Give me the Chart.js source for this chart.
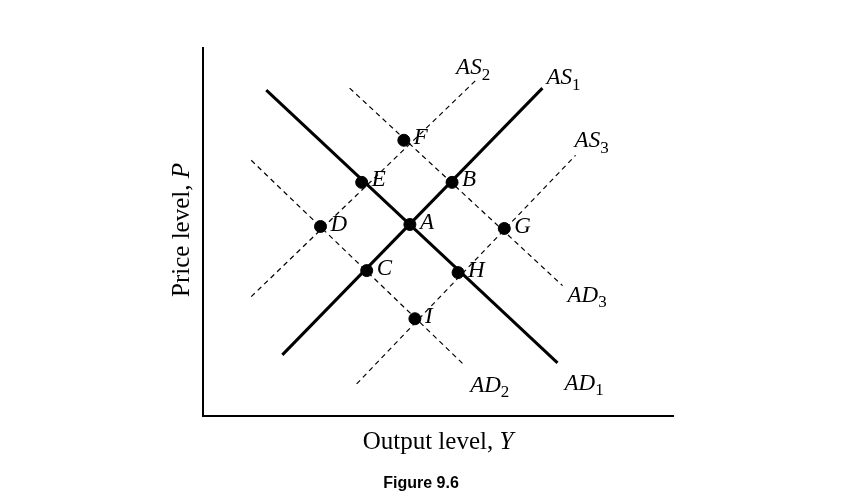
<!DOCTYPE html>
<html>
<head>
<meta charset="utf-8">
<script src="https://cdn.jsdelivr.net/npm/chart.js@4"></script>
<style>body{margin:0;background:#fff}</style>
</head>
<body>
<canvas id="c" width="841" height="502"></canvas>
<script>
// curve end points [x1, y1, x2, y2] in axis units (y measured up from the output axis)
const ad1 = [267, 325, 557, 53];
const as1 = [283, 61, 542, 327];
const as2 = [252, 119, 478, 337];
const as3 = [357, 32, 575, 260];
const ad2 = [252, 255, 465, 50];
const ad3 = [350, 327, 562, 130];

const pointNames = ["A", "B", "C", "D", "E", "F", "G", "H", "I"];
const pointX = [410, 452, 367, 321, 362, 404, 504, 458, 415];
const pointY = [191, 233, 145, 189, 233, 275, 187, 143, 97];

const curveNames = [["AS", "2"], ["AS", "1"], ["AS", "3"], ["AD", "3"], ["AD", "2"], ["AD", "1"]];
const curveLabelX = [456, 546, 574, 567, 470, 564];
const curveLabelY = [347, 337, 274, 120, 30, 32];

function seg(a, dashed) {
  return {
    type: "line",
    data: [{x: a[0], y: a[1]}, {x: a[2], y: a[3]}],
    borderColor: "#000",
    borderWidth: dashed ? 1.2 : 3,
    borderDash: dashed ? [5, 4] : [],
    pointRadius: 0,
    showLine: true
  };
}

const textPlugin = {
  id: "texts",
  afterDraw(chart) {
    const ctx = chart.ctx, xs = chart.scales.x, ys = chart.scales.y;
    ctx.save();
    ctx.fillStyle = "#000";
    ctx.textBaseline = "middle";
    ctx.textAlign = "left";
    ctx.font = "italic 23px 'Liberation Serif'";
    pointNames.forEach((n, i) => {
      ctx.fillText(n, xs.getPixelForValue(pointX[i]) + 10, ys.getPixelForValue(pointY[i]) - 2);
    });
    curveNames.forEach((n, i) => {
      const px = xs.getPixelForValue(curveLabelX[i]), py = ys.getPixelForValue(curveLabelY[i]);
      ctx.font = "italic 23px 'Liberation Serif'";
      ctx.fillText(n[0], px, py);
      const w = ctx.measureText(n[0]).width;
      ctx.font = "17px 'Liberation Serif'";
      ctx.fillText(n[1], px + w, py + 7);
    });
    const t = "Output level, ";
    ctx.font = "25px 'Liberation Serif'";
    const w1 = ctx.measureText(t).width;
    ctx.font = "italic 25px 'Liberation Serif'";
    const w2 = ctx.measureText("Y").width;
    const sx = 438 - (w1 + w2) / 2;
    ctx.font = "25px 'Liberation Serif'";
    ctx.fillText(t, sx, 442);
    ctx.font = "italic 25px 'Liberation Serif'";
    ctx.fillText("Y", sx + w1, 442);
    ctx.save();
    ctx.translate(182, 230);
    ctx.rotate(-Math.PI / 2);
    ctx.font = "25px 'Liberation Serif'";
    const v1 = ctx.measureText("Price level, ").width;
    ctx.font = "italic 25px 'Liberation Serif'";
    const v2 = ctx.measureText("P").width;
    const vx = -(v1 + v2) / 2;
    ctx.font = "25px 'Liberation Serif'";
    ctx.fillText("Price level, ", vx, 0);
    ctx.font = "italic 25px 'Liberation Serif'";
    ctx.fillText("P", vx + v1, 0);
    ctx.restore();
    ctx.font = "bold 16px Arial, 'Liberation Sans'";
    ctx.textAlign = "center";
    ctx.fillText("Figure 9.6", 421, 484);
    ctx.restore();
  }
};

new Chart(document.getElementById("c"), {
  type: "scatter",
  data: {
    datasets: [
      seg(ad1, false), seg(as1, false), seg(as2, true), seg(as3, true), seg(ad2, true), seg(ad3, true),
      {
        type: "scatter",
        data: pointX.map((x, i) => ({x: x, y: pointY[i]})),
        backgroundColor: "#000",
        borderColor: "#000",
        pointRadius: 6
      }
    ]
  },
  options: {
    responsive: false,
    animation: false,
    layout: {padding: {left: 203, right: 168, top: 48, bottom: 86}},
    plugins: {legend: {display: false}, tooltip: {enabled: false}},
    scales: {
      x: {type: "linear", min: 204, max: 672, ticks: {display: false}, grid: {display: false, drawTicks: false}, border: {display: true, color: "#000", width: 2}},
      y: {type: "linear", min: 0, max: 367, ticks: {display: false}, grid: {display: false, drawTicks: false}, border: {display: true, color: "#000", width: 2}}
    }
  },
  plugins: [textPlugin]
});
</script>
</body>
</html>
